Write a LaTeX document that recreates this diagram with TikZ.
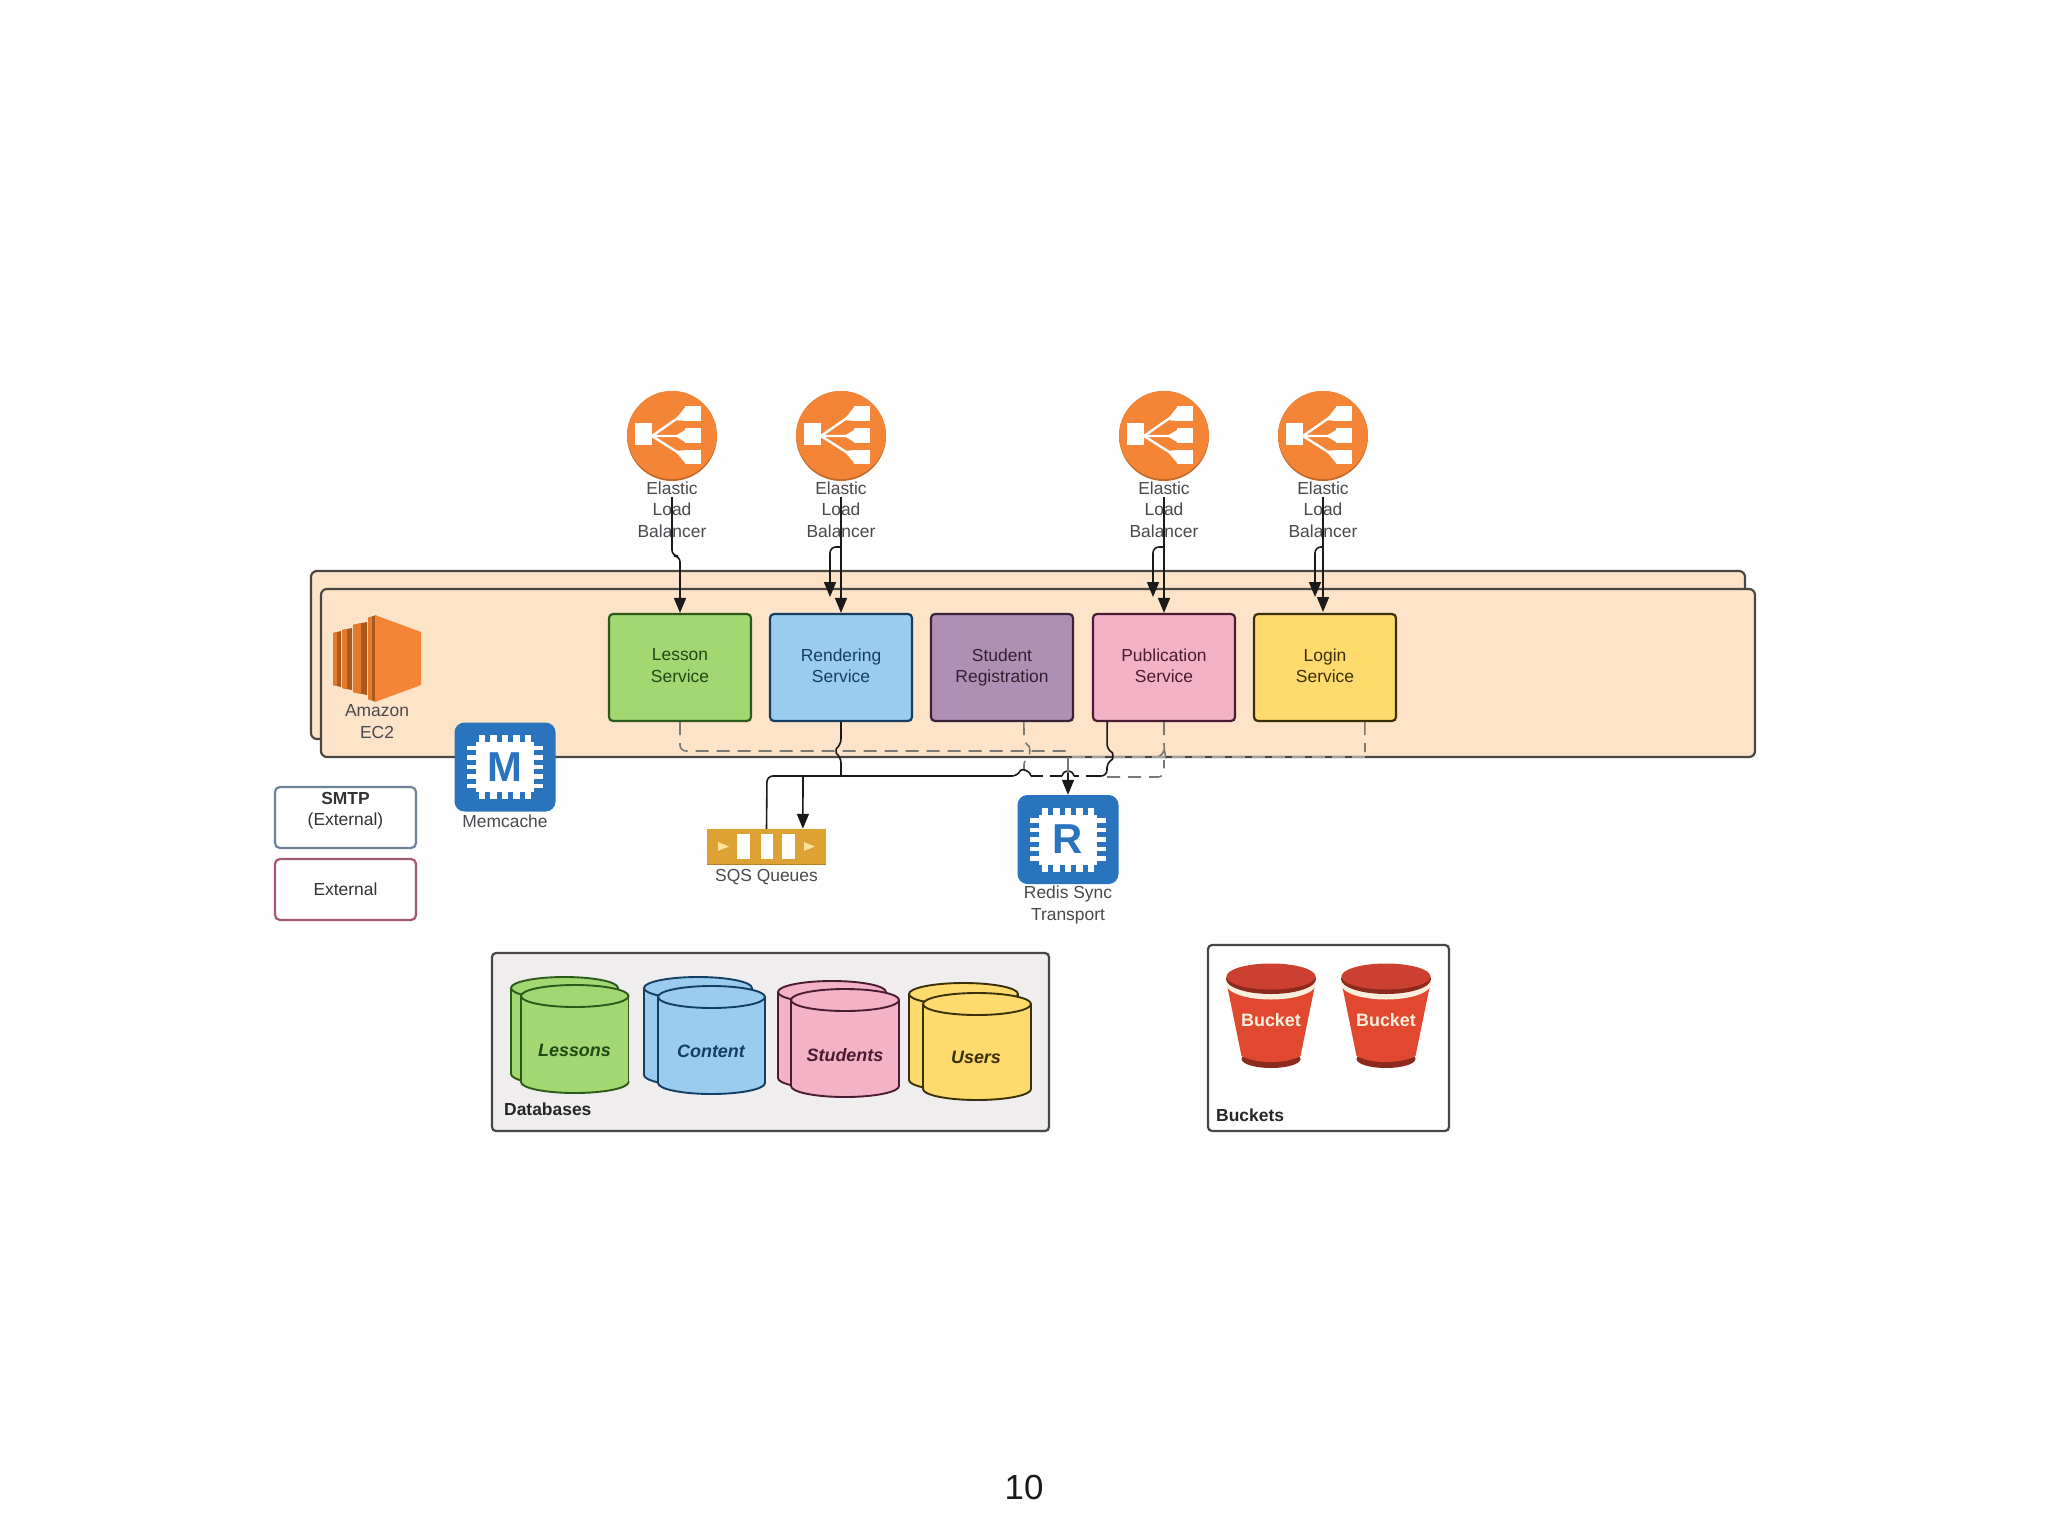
\documentclass[tikz,border=0pt]{standalone}
\usepackage{fontspec}
\setmainfont{Liberation Sans}
\usetikzlibrary{arrows.meta}
\definecolor{pagebg}{HTML}{FEFEFE}
\definecolor{peach}{HTML}{FDE3C8}
\definecolor{framec}{HTML}{4A4642}
\definecolor{labelc}{HTML}{4A4A4E}
\definecolor{wirec}{HTML}{1C1A18}
\definecolor{dashc}{HTML}{7C7872}
\definecolor{greenf}{HTML}{A2D771}\definecolor{greend}{HTML}{2C5A1A}
\definecolor{bluef}{HTML}{99CCEE}\definecolor{blued}{HTML}{143F63}
\definecolor{purpf}{HTML}{B08FB5}\definecolor{purpd}{HTML}{3A2238}
\definecolor{pinkf}{HTML}{F4B2C6}\definecolor{pinkd}{HTML}{4A1C33}
\definecolor{yellf}{HTML}{FFDB6E}\definecolor{yelld}{HTML}{3B2F05}
\definecolor{orangef}{HTML}{F58536}\definecolor{oranged}{HTML}{C46A28}\definecolor{orangem}{HTML}{A9581E}\definecolor{orangeb}{HTML}{E47B2C}
\definecolor{chipblue}{HTML}{2A74BD}
\definecolor{sqsf}{HTML}{DDA134}\definecolor{sqsd}{HTML}{B5822A}\definecolor{sqst}{HTML}{FBE39A}
\definecolor{dbbg}{HTML}{EFEDEE}
\definecolor{redf}{HTML}{E0492F}\definecolor{redl}{HTML}{CB4030}\definecolor{redd}{HTML}{8C2A1E}\definecolor{creamc}{HTML}{FCEEDC}
\definecolor{smtpc}{HTML}{6F8298}\definecolor{extc}{HTML}{A25870}
\newcommand{\lblfont}{\fontsize{17.5}{21.5}\selectfont}
\newcommand{\topstrut}{\rule{0pt}{18.5bp}}
\newcommand{\botstrut}{\rule[-4bp]{0pt}{4bp}}
\tikzset{
  x=1bp,y=-1bp,
  svc/.style={draw,line width=2.2pt,rounded corners=4,minimum width=142bp,minimum height=107bp,inner sep=0,align=center,font=\lblfont,execute at begin node=\topstrut,execute at end node=\botstrut},
  lbl/.style={inner sep=0,align=center,font=\lblfont,text=labelc,execute at begin node=\topstrut,execute at end node=\botstrut},
  wire/.style={draw=wirec,line width=1.6pt,rounded corners=6},
  dashwire/.style={draw=dashc,line width=1.6pt,rounded corners=6,dash pattern=on 13bp off 8bp},
  arrowed/.style={-{Triangle[width=12bp,length=15bp]}},
  chipbox/.style={fill=chipblue,draw=none,rounded corners=10,minimum width=101bp,minimum height=89bp,inner sep=0},
  groupbox/.style={draw=framec,line width=2.2pt,rounded corners=4},
  dbtext/.style={inner sep=0,font=\fontsize{18}{22}\selectfont\bfseries\itshape},
  boldlbl/.style={inner sep=0,anchor=west,text=black!85,font=\fontsize{17.5}{21.5}\selectfont\bfseries},
  legendbox/.style={line width=2.2pt,rounded corners=5,minimum width=141bp,minimum height=61bp,inner sep=0},
}
% ELB icon: name, x, y
\newcommand{\elbicon}[3]{%
  \node[circle,fill=oranged,minimum size=90bp,inner sep=0] (#1) at (#2,#3) {};
  \begin{scope}[shift={(#2,#3)}]
    \begin{scope}
      \clip (0,0) circle [radius=45];
      \fill[orangef] (0,-2) circle [radius=45];
    \end{scope}
    \fill[white] (-37,-13) rectangle (-20,9);
    \fill[white] (13,-30) rectangle (29,-15);
    \fill[white] (13,-8) rectangle (29,7);
    \fill[white] (13,14) rectangle (29,28);
    \draw[white,line width=2.4pt] (-20,0) -- (13,-23) (-20,0) -- (13,0) (-20,0) -- (13,21);
    \fill[white] (14,-30) -- (14,-15) -- (3,-16) -- cycle;
    \fill[white] (13,-6) -- (13,6) -- (3,0) -- cycle;
    \fill[white] (14,14) -- (14,28) -- (3,15) -- cycle;
  \end{scope}
}
% chip icon: name, x, y, letter
\newcommand{\chipicon}[4]{%
  \node[chipbox] (#1) at (#2,#3) {};
  \begin{scope}[shift={(#2,#3)}]
    \fill[white] (-29,-25) rectangle (29,25);
    \foreach \dx in {-23,-11.5,0,11.5,23} {
      \fill[white] (\dx-3.2,-32) rectangle (\dx+3.2,32);
    }
    \foreach \dy in {-19,-9.5,0,9.5,19} {
      \fill[white] (-38,\dy-2.3) rectangle (38,\dy+2.3);
    }
    \node[inner sep=0,text=chipblue,font=\fontsize{42}{42}\selectfont\bfseries] (#1letter) at (0,0) {#4};
  \end{scope}
}
% cylinder: left, right, top edge, bottom edge, fill, stroke
\newcommand{\cyl}[6]{%
  \pgfmathsetmacro{\cx}{(#1+#2)/2}
  \pgfmathsetmacro{\rx}{(#2-#1)/2}
  \pgfmathsetmacro{\tc}{#3+11}
  \pgfmathsetmacro{\bc}{#4-11}
  \filldraw[fill=#5,draw=#6,line width=1.9pt] (\cx,\bc) ellipse [x radius=\rx,y radius=11];
  \fill[#5] (#1,\tc) rectangle (#2,\bc);
  \draw[#6,line width=1.9pt] (#1,\tc) -- (#1,\bc) (#2,\tc) -- (#2,\bc);
  \filldraw[fill=#5,draw=#6,line width=1.9pt] (\cx,\tc) ellipse [x radius=\rx,y radius=11];
}
% bucket: name, x
\newcommand{\bucket}[2]{%
  \begin{scope}[shift={(#2,0)}]
    \fill[redd] (0,1059) ellipse [x radius=29.5,y radius=9];
    \fill[redf] (-44,985) -- (-29.5,1056) .. controls (-15,1064) and (15,1064) .. (29.5,1056) -- (44,985) -- cycle;
    \fill[creamc] (0,984) ellipse [x radius=45,y radius=15.5];
    \fill[redd] (0,979) ellipse [x radius=45,y radius=15];
    \fill[redl] (0,976.5) ellipse [x radius=44.5,y radius=13];
    \node[inner sep=0,text=creamc,font=\fontsize{18}{22}\selectfont\bfseries] (#1) at (0,1020) {Bucket};
  \end{scope}
}
\begin{document}
\begin{tikzpicture}
\useasboundingbox (0,0) rectangle (2048,1536);
\fill[pagebg] (0,0) rectangle (2048,1536);

% EC2 frames
\draw[fill=peach,draw=framec,line width=2.2pt,rounded corners=6] (311,571) rectangle (1745,739);
\draw[fill=peach,draw=framec,line width=2.2pt,rounded corners=6] (321,589) rectangle (1755,757);

% EC2 icon
\fill[orangem] (333,633) -- (341,631) -- (341,687) -- (333,685) -- cycle;
\fill[orangeb] (333,633) -- (337,632) -- (337,686) -- (333,685) -- cycle;
\fill[orangem] (342,630) -- (352,628) -- (352,690) -- (342,688) -- cycle;
\fill[orangeb] (342,630) -- (347,629) -- (347,689) -- (342,688) -- cycle;
\fill[orangem] (353,625) -- (367,622) -- (367,695) -- (353,692) -- cycle;
\fill[orangeb] (353,625) -- (361,623) -- (361,694) -- (353,692) -- cycle;
\fill[orangem] (368,618) -- (376,615) -- (376,702) -- (368,699) -- cycle;
\fill[orangeb] (368,618) -- (372,616.5) -- (372,700.5) -- (368,699) -- cycle;
\fill[orangef] (375,615) -- (421,632) -- (421,685) -- (375,702) -- cycle;
\node[lbl] (ec2label) at (377,723.5) {Amazon\\EC2};

% services
\node[svc,fill=greenf,draw=greend,text=greend!80!black] (lesson) at (680,667.5) {Lesson\\Service};
\node[svc,fill=bluef,draw=blued,text=blued] (render) at (841,667.5) {Rendering\\Service};
\node[svc,fill=purpf,draw=purpd,text=purpd!90!black] (student) at (1002,667.5) {Student\\Registration};
\node[svc,fill=pinkf,draw=pinkd,text=pinkd] (pub) at (1164,667.5) {Publication\\Service};
\node[svc,fill=yellf,draw=yelld,text=yelld] (login) at (1325,667.5) {Login\\Service};

% load balancers
\elbicon{elbA}{672}{436}
\elbicon{elbB}{841}{436}
\elbicon{elbC}{1164}{436}
\elbicon{elbD}{1323}{436}
\node[lbl] (elbAl) at (672,511.5) {Elastic\\Load\\Balancer};
\node[lbl] (elbBl) at (841,511.5) {Elastic\\Load\\Balancer};
\node[lbl] (elbCl) at (1164,511.5) {Elastic\\Load\\Balancer};
\node[lbl] (elbDl) at (1323,511.5) {Elastic\\Load\\Balancer};

% memcache
\chipicon{memcache}{505}{767}{M}
\node[lbl] (memlabel) at (505,820) {Memcache};

% redis
\chipicon{redis}{1068}{839.5}{R}
\node[lbl] (redislabel) at (1068,905) {Redis Sync\\Transport};

% SQS
\node[fill=sqsf,draw=none,minimum width=119bp,minimum height=36bp,inner sep=0] (sqs) at (766.5,847) {};
\fill[sqsd] (707,863.5) rectangle (826,865);
\fill[white] (737,834) rectangle (750,859);
\fill[white] (761,834) rectangle (773,859);
\fill[white] (782,834) rectangle (795,859);
\fill[sqst] (718,842) -- (729,846.5) -- (718,851) -- cycle;
\fill[sqst] (804,842) -- (815,846.5) -- (804,851) -- cycle;
\node[lbl] (sqslabel) at (766.5,874) {SQS Queues};

% legend
\node[legendbox,draw=smtpc,fill=white] (smtp) at (345.5,817.5) {};
\node[lbl,text=black!80] (smtptext) at (345.5,811) {\textbf{SMTP}\\(External)};
\node[legendbox,draw=extc,fill=white] (ext) at (345.5,889.5) {};
\node[lbl,text=black!80] (exttext) at (345.5,888) {External};

% databases
\draw[groupbox,fill=dbbg] (492,953) rectangle (1049,1131);
\cyl{511}{618}{977}{1085}{greenf}{greend}
\cyl{521}{628.5}{985}{1093}{greenf}{greend}
\node[dbtext,text=greend!80!black] (dbLessons) at (574.5,1050) {Lessons};
\cyl{644}{752}{977}{1086}{bluef}{blued}
\cyl{658}{765}{986}{1094}{bluef}{blued}
\node[dbtext,text=blued] (dbContent) at (711,1051) {Content};
\cyl{778}{886}{981}{1089}{pinkf}{pinkd}
\cyl{791}{899}{989}{1097}{pinkf}{pinkd}
\node[dbtext,text=pinkd] (dbStudents) at (845,1055) {Students};
\cyl{909}{1018}{983}{1091}{yellf}{yelld}
\cyl{923}{1031}{993}{1100}{yellf}{yelld}
\node[dbtext,text=yelld] (dbUsers) at (976,1057) {Users};
\node[boldlbl] (dblabel) at (504,1109) {Databases};

% buckets
\draw[groupbox,fill=white] (1208,945) rectangle (1449,1131);
\bucket{bucketA}{1271}
\bucket{bucketB}{1386}
\node[boldlbl] (bktlabel) at (1216,1115) {Buckets};

% page number
\node[inner sep=0,text=black!90,font=\fontsize{35}{40}\selectfont] (pageno) at (1024,1487) {10};

% way-points
\coordinate (startA) at (672,497);
\coordinate (startB) at (841,497);
\coordinate (startC) at (1164,497);
\coordinate (startD) at (1323,497);
\coordinate (endB) at (830,597);
\coordinate (endC) at (1153,597);
\coordinate (endD) at (1315,597);

% dashed connectors
\draw[dashwire] (lesson.south) -- (680,751) -- (1068,751);
\draw[dashwire] ([xshift=22]student.south) -- (1024,743) .. controls (1030,747) and (1030,755) .. (1024,759) -- (1024,769);
\draw[dashwire] (1107,777) -- (1164,777) -- (1164,760);
\draw[dashwire] (pub.south) -- (1164,750) .. controls (1165,754) and (1168,756) .. (1170,757) (1164,750) .. controls (1163,754) and (1160,756) .. (1158,757);
\draw[dashwire] ([xshift=40]login.south) -- (1365,752);
\draw[dashc!70,line width=1.6pt,dash pattern=on 13bp off 7bp] (1365,757) -- (1068,757);

% load-balancer connectors
\draw[wire,arrowed] (startA) -- (672,556) -- (680,556) -- (lesson.north);
\draw[wire,arrowed] (startB) -- (render.north);
\draw[wire,arrowed] (841,547) -- (830,547) -- (endB);
\draw[wire,arrowed] (startC) -- (pub.north);
\draw[wire,arrowed] (1164,547) -- (1153,547) -- (endC);
\draw[wire,arrowed] (startD) -- (1323,612);
\draw[wire,arrowed] (1323,547) -- (1315,547) -- (endD);

% solid connectors
\draw[wire] (render.south) -- (841,745) .. controls (836,749) and (836,753) .. (841,757) -- (841,776);
\draw[wire] ([xshift=-57]pub.south) -- (1107,750) .. controls (1113,753) and (1113,759) .. (1107,762) -- (1107,776) -- (1098,776);
\draw[wire,rounded corners=0,dash pattern=on 12bp off 7bp] (1098,776) -- (1074,776);
\draw[wire,rounded corners=0] (1074,776) .. controls (1072,769) and (1064,769) .. (1062,776);
\draw[wire,rounded corners=0,dash pattern=on 12bp off 7bp] (1062,776) -- (1031,776);
\draw[wire] (1031,776) .. controls (1029,769) and (1021,769) .. (1018,776) -- (767,776) -- (sqs.north);
\draw[wire,arrowed] (803,776) -- ([xshift=36.5]sqs.north);
\draw[wire,arrowed] (1068,757) -- (redis.north);
\draw[dashc,line width=1.8pt] (1068,757) -- (1068,773);
\end{tikzpicture}
\end{document}
